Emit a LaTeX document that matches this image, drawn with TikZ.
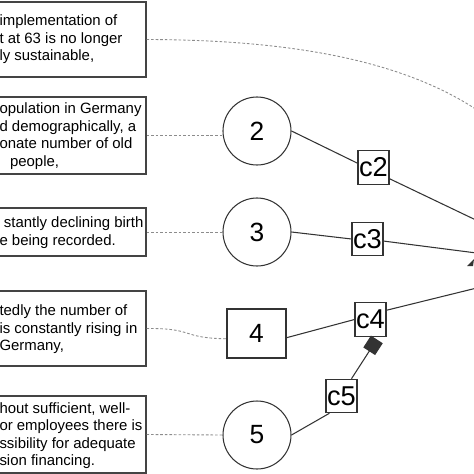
\documentclass[tikz,border=0pt]{standalone}
\usepackage{fontspec}
\setmainfont{Liberation Sans}
\usepackage{tikz}
\usetikzlibrary{arrows.meta}
\usepackage[dvipsnames,svgnames,x11names]{xcolor}

\definecolor{linia}{HTML}{333333}
\definecolor{vora}{HTML}{444444}
\definecolor{puntejat}{HTML}{8C8C8C}

\begin{document}
\begin{tikzpicture}[
    x=0.2mm,
    y=-0.2mm,
    line width=0.6pt,
    caixa/.style={draw=vora, rectangle, minimum width=59.2mm, inner sep=0pt},
    texte/.style={anchor=west, align=left, inner sep=0pt,
        font=\fontsize{8.5}{9.95}\selectfont},
    cercle/.style={draw=linia, circle, minimum size=13.6mm, inner sep=0pt,
        font=\fontsize{15}{17}\selectfont},
    arg/.style={draw=linia, rectangle, minimum width=6.2mm, minimum height=6.7mm,
        inner sep=0pt, font=\fontsize{15.5}{17}\selectfont},
    enllac/.style={draw=puntejat, line width=0.5pt, dash pattern=on 1.5pt off 1.1pt},
    aresta/.style={draw=linia}
]

    \useasboundingbox (0,0) rectangle (474,474);
    \clip (0,0) rectangle (474,474);

    % Caixes
    \node[caixa, minimum height=15mm] (m1) at (-2,39.5) {};
    \node[caixa, minimum height=15.4mm] (m2) at (-2,135.5) {};
    \node[caixa, minimum height=9.6mm] (m3) at (-2,232) {};
    \node[caixa, minimum height=15mm] (m4) at (-2,328.5) {};
    \node[caixa, minimum height=15.4mm] (m5) at (-2,434.5) {};

    % Textos
    \node[texte] (t1) at (-1,39.5)
        {implementation of\\t at 63 is no longer\\ly sustainable,};
    \node[texte] (t2) at (-1,136)
        {opulation in Germany\\d demographically, a\\onate number of old\\\hspace{6pt}people,};
    \node[texte] (t3) at (-1,232.5)
        {\hspace{2.5pt}stantly declining birth\\e being recorded.};
    \node[texte] (t4) at (-1,329.5)
        {tedly the number of\\is constantly rising in\\Germany,};
    \node[texte] (t5) at (-1,435.5)
        {hout sufficient, well-\\or employees there is\\ssibility for adequate\\sion financing.};

    % Enunciats
    \node[cercle] (n1) at (570,265) {};
    \node[cercle] (n2) at (257,131) {2};
    \node[cercle] (n3) at (257,232) {3};
    \node[
        draw=linia,
        rectangle,
        minimum width=11.8mm,
        minimum height=9.8mm,
        font=\fontsize{15}{17}\selectfont
    ] (b4) at (256.5,333.5) {4};
    \node[cercle] (n5) at (257,435) {5};

    % Arguments
    \node[arg] (c2) at (373.5,167.5) {c2};
    \node[arg] (c3) at (367.5,239) {c3};
    \node[arg] (c4) at (370.5,319.5) {c4};
    \node[arg] (c5) at (341.5,396) {c5};

    % Enllacos puntejats
    \draw[enllac] (m1.east) .. controls (350,40) and (520,80) .. (n1.north);
    \draw[enllac] (m2.east) -- (m2.east -| n2.west);
    \draw[enllac] (m3.east) -- (n3.west);
    \draw[enllac] (m4.east) .. controls (195,328) and (180,338) .. (b4.190);
    \draw[enllac] (m5.east) -- (n5.west);

    % Arestes
    \draw[aresta] (n2.east) -- (c2.165);
    \draw[aresta] (c2.-35) -- (n1);
    \draw[aresta] (n3.east) -- (c3.west);
    \draw[aresta] (c3) -- (n1);
    \draw[aresta] (b4.-8) -- (c4.west);
    \draw[aresta] (c4.30) -- (n1);
    \draw[aresta] (n5.east) -- (c5.235);

    % Excepcio
    \draw[
        aresta,
        -{Square[length=8pt, width=8pt]},
        shorten >=1.8pt
    ] (c5.60) -- (c4.-65);

    % Punta
    \fill[linia] (467,266) -- (474,259) -- (473,266) -- cycle;

\end{tikzpicture}
\end{document}
